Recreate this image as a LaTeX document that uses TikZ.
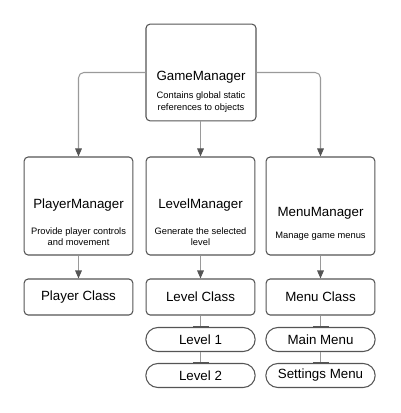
\documentclass[tikz,border=0pt]{standalone}
\usepackage{fontspec}
\setmainfont{Liberation Sans}
\usepackage{tikz}
\usetikzlibrary{arrows.meta, positioning, shapes.misc}

\definecolor{edge}{HTML}{555555}
\definecolor{wire}{HTML}{9A9A9A}

\begin{document}
\begin{tikzpicture}[
  x=0.75pt, y=-0.75pt,
  every node/.style={font=\fontsize{10}{12}\selectfont, text=black},
  box/.style={draw=edge, line width=0.8pt, rounded corners=3pt, fill=white,
    minimum width=81.5pt, minimum height=73.5pt, inner sep=0pt},
  cls/.style={box, minimum height=27pt},
  lvl/.style={draw=edge, line width=0.8pt, rounded rectangle, fill=white,
    minimum width=82pt, minimum height=18pt, inner sep=0pt},
  desc/.style={font=\fontsize{7}{8.6}\selectfont, align=center},
  arr/.style={draw=wire, line width=0.8pt, rounded corners=4pt,
    -{Triangle[length=6pt, width=5pt, color=edge]}},
  tee/.style={draw=wire, line width=0.8pt, -{Bar[width=12pt, line width=1pt, color=edge]}},
]
  \useasboundingbox (0,0) rectangle (400,413);

  % Manager boxes
  \node[box, minimum width=82.5pt, minimum height=72.5pt] (gm) at (201,72.5) {};
  \node[box] (pm) at (78.5,206) {};
  \node[box] (lm) at (200.5,206) {};
  \node[box] (mm) at (320.5,206) {};

  % titles and descriptions
  \node (gmt) at (201,77) {GameManager};
  \node[desc] (gmd) at (201,102) {Contains global static\\references to objects};
  \node (pmt) at (78.5,205) {PlayerManager};
  \node[desc] (pmd) at (78.5,236.5) {Provide player controls\\and movement};
  \node (lmt) at (200.5,205) {LevelManager};
  \node[desc] (lmd) at (200.5,236.5) {Generate the selected\\level};
  \node (mmt) at (320.5,213) {MenuManager};
  \node[desc] (mmd) at (320.5,236) {Manage game menus};

  % Class boxes
  \node[cls] (pc) at (78.5,297) {Player Class};
  \node[cls] (lc) at (200.5,297) {Level Class};
  \node[cls] (mc) at (320.5,297) {Menu Class};

  % levels and menus
  \node[lvl] (l1) at (200.5,339.5) {Level 1};
  \node[lvl] (l2) at (200.5,375.5) {Level 2};
  \node[lvl] (mmenu) at (320.5,339.5) {Main Menu};
  \node[lvl] (smenu) at (320.5,375.5) {Settings Menu};

  % arrows
  \draw[arr] (gm.west) -| (pm.north);
  \draw[arr] (gm.east) -| (mm.north);
  \draw[arr] (gm.south -| lm.north) -- (lm.north);
  \foreach \a/\b in {pm/pc, lm/lc, mm/mc} {
    \draw[arr] (\a.south) -- (\b.north);
  }
  \foreach \a/\b in {lc/l1, l1/l2, mc/mmenu, mmenu/smenu} {
    \draw[tee] (\a.south) -- (\b.north);
  }
\end{tikzpicture}
\end{document}
